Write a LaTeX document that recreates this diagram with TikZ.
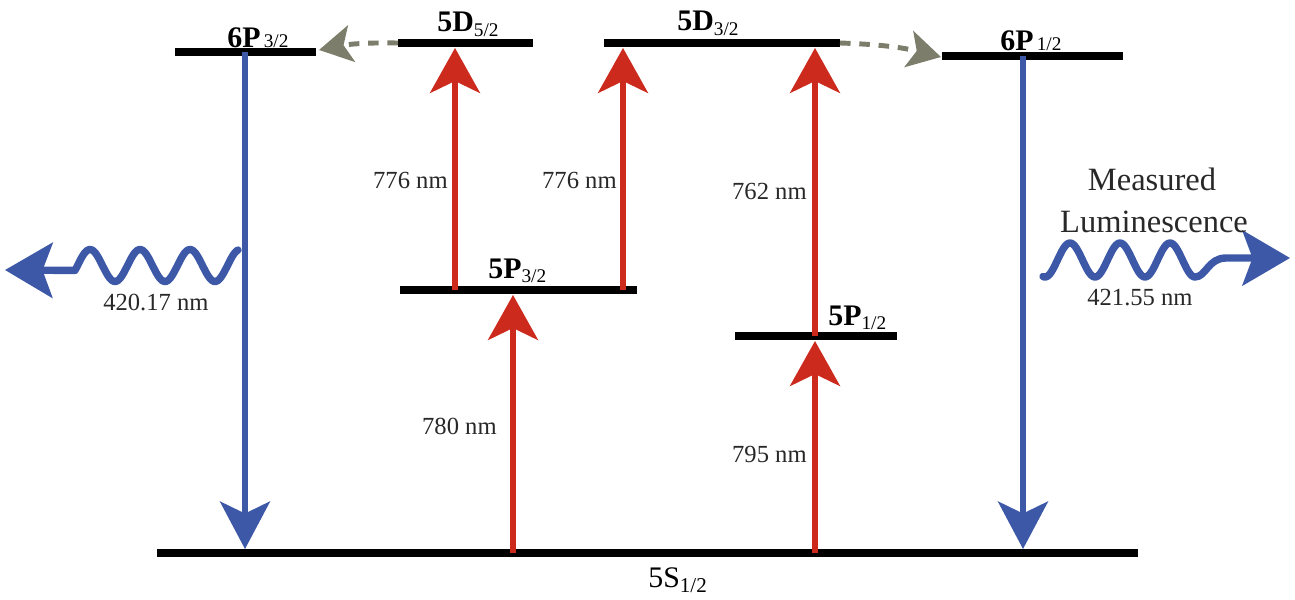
\documentclass[tikz,border=0pt]{standalone}
\usepackage{fontspec}
\setmainfont{Liberation Serif}
\usetikzlibrary{arrows.meta}
\definecolor{lvlblue}{RGB}{62,88,168}
\definecolor{lvlred}{RGB}{204,42,28}
\definecolor{lvlgray}{RGB}{125,125,108}
\definecolor{txtgray}{RGB}{40,40,40}
\newcommand{\lvlab}[3]{{\bfseries #1}\raisebox{#3}{\fontsize{11}{11}\selectfont #2}}
\tikzset{
  level/.style={line width=4.8pt, black},
  redup/.style={line width=3pt, lvlred, -{Stealth[length=0.9cm, width=1.0cm, inset=0.24cm]}},
  bluedown/.style={line width=3pt, lvlblue, -{Stealth[length=0.95cm, width=1.0cm, inset=0.24cm]}},
  grayarr/.style={line width=2.8pt, lvlgray, dash pattern=on 6pt off 5pt, -{Stealth[length=0.66cm, width=0.74cm, inset=0.16cm]}},
  wave/.style={line width=4.2pt, lvlblue, line cap=round, line join=round, -{Stealth[length=0.95cm, width=1.1cm, inset=0.2cm]}},
  nmlab/.style={font=\fontsize{14}{14}\selectfont, text=txtgray, inner sep=0pt},
  lvllab/.style={font=\fontsize{17}{17}\selectfont, text=black, inner sep=0pt, anchor=base west},
}
\begin{document}
\begin{tikzpicture}[x=0.02cm, y=-0.02cm]
\useasboundingbox (0,0) rectangle (1295,599);
% level end points
\coordinate (p3L) at (175,52);  \coordinate (p3R) at (316,52);
\coordinate (d5L) at (398,43);  \coordinate (d5R) at (533,43);
\coordinate (d3L) at (604,43);  \coordinate (d3R) at (840,43);
\coordinate (p1L) at (942,56);  \coordinate (p1R) at (1123,56);
\coordinate (q3L) at (400,290); \coordinate (q3R) at (637,290);
\coordinate (q1L) at (735,336); \coordinate (q1R) at (897,336);
\coordinate (sL) at (157,553);  \coordinate (sR) at (1138,553);
% levels
\draw[level] (p3L) -- (p3R);
\draw[level] (d5L) -- (d5R);
\draw[level] (d3L) -- (d3R);
\draw[level] (p1L) -- (p1R);
\draw[level] (q3L) -- (q3R);
\draw[level] (q1L) -- (q1R);
\draw[level] (sL) -- (sR);
% level labels
\node[lvllab] (l6p3) at (227,47) {\lvlab{6P}{\,3/2}{-0.5pt}};
\node[lvllab] (l5d5) at (437,31) {\lvlab{5D}{5/2}{-3.4pt}};
\node[lvllab] (l5d3) at (677,30) {\lvlab{5D}{3/2}{-3.4pt}};
\node[lvllab] (l6p1) at (1000,50) {\lvlab{6P}{\,1/2}{-0.5pt}};
\node[lvllab] (l5p3) at (488,278) {\lvlab{5P}{3/2}{-2.3pt}};
\node[lvllab] (l5p1) at (828,325) {\lvlab{5P}{1/2}{-2.3pt}};
\node[lvllab] (l5s) at (648,587) {5S\raisebox{-3.4pt}{\fontsize{12}{12}\selectfont 1/2}};
% arrow end points
\coordinate (r780s) at (513,553); \coordinate (r780e) at (513,295);
\coordinate (r776as) at (455,290); \coordinate (r776ae) at (455,48);
\coordinate (r776bs) at (623,290); \coordinate (r776be) at (623,48);
\coordinate (r795s) at (815,553); \coordinate (r795e) at (815,341);
\coordinate (r762s) at (815,336); \coordinate (r762e) at (815,48);
\coordinate (b1s) at (245,52); \coordinate (b1e) at (245,549);
\coordinate (b2s) at (1023,56); \coordinate (b2e) at (1023,549);
\coordinate (g1e) at (319,50);
\coordinate (g2e) at (941,57);
% red excitation arrows
\draw[redup] (r780s) -- (r780e);
\draw[redup] (r776as) -- (r776ae);
\draw[redup] (r776bs) -- (r776be);
\draw[redup] (r795s) -- (r795e);
\draw[redup] (r762s) -- (r762e);
% blue decay arrows
\draw[bluedown] (b1s) -- (b1e);
\draw[bluedown] (b2s) -- (b2e);
% gray dashed transfer arrows
\draw[grayarr] (d5L) to[bend right=6] (g1e);
\draw[grayarr] (d3R) to[bend left=6] (g2e);
% wavy emission arrows
\coordinate (wlE) at (5,270);
\coordinate (wrE) at (1290,258);
\coordinate (wrA) at (1226,258);
\draw[wave] plot[domain=0:163, samples=140, smooth] ({238-\x}, {265.5-16*cos(7.2*(148-\x))}) -- (wlE);
\draw[wave] plot[domain=1043:1195, samples=140, smooth] (\x, {260-17*cos(7.2*(\x-1070))})
  .. controls (1206,277) and (1208,258) .. (wrA) -- (wrE);
% wavelength labels
\node[nmlab, anchor=base east] (t776a) at (448,188) {776 nm};
\node[nmlab, anchor=base east] (t776b) at (617,188) {776 nm};
\node[nmlab, anchor=base east] (t762) at (807,199) {762 nm};
\node[nmlab, anchor=base east] (t780) at (497,434) {780 nm};
\node[nmlab, anchor=base east] (t795) at (807,462) {795 nm};
\node[nmlab, anchor=base west] (t420) at (103,310) {420.17 nm};
\node[nmlab, anchor=base west] (t421) at (1087,305) {421.55 nm};
\node[font=\fontsize{18.5}{18.5}\selectfont, text=txtgray, inner sep=0pt, anchor=base] (tmeas) at (1152,190) {Measured};
\node[font=\fontsize{18.5}{18.5}\selectfont, text=txtgray, inner sep=0pt, anchor=base] (tlum) at (1154,232) {Luminescence};
\end{tikzpicture}
\end{document}
